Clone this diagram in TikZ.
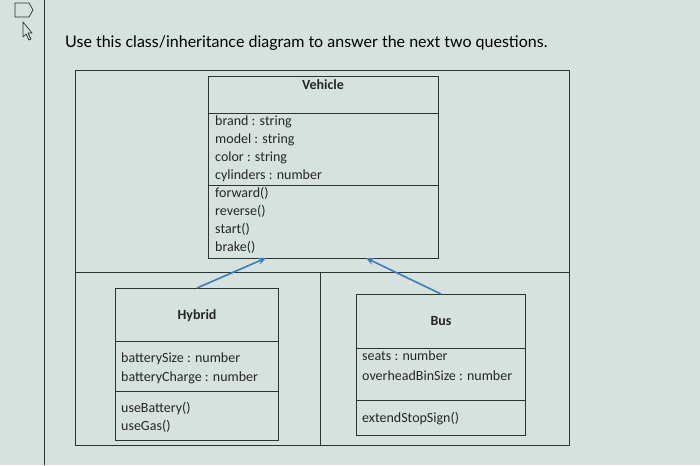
\documentclass[tikz,border=0pt]{standalone}
\usepackage{fontspec}
\setmainfont{Carlito}
\newfontfamily\latofont{Lato}
\usetikzlibrary{positioning,arrows.meta}
\definecolor{screen}{RGB}{214,226,222}
\definecolor{umlline}{RGB}{45,50,52}
\definecolor{inherit}{RGB}{58,124,190}
\tikzset{
  compart/.style={draw=umlline,line width=0.9pt,anchor=north west,inner sep=0pt},
  member/.style={anchor=north west,inner sep=0pt,align=left,text=black!85,
    font=\fontsize{14}{18}\selectfont},
  classname/.style={text=black!85,font=\bfseries\fontsize{14}{16}\selectfont},
  inherits/.style={draw=inherit,line width=1.6pt,-{Stealth[length=8pt,width=7pt]}}
}
\begin{document}
\begin{tikzpicture}[x=1pt,y=-1pt]
\useasboundingbox (0,0) rectangle (700,465);
\fill[screen] (0,0) rectangle (700,465);
% screen bits at the left
\draw[umlline] (44,0) -- (44,465);
\draw[umlline,line width=0.8pt] (15,3) -- (29,3) -- (33,10) -- (29,17) -- (15,17) -- cycle;
\draw[umlline,line width=0.7pt,line join=round] (23,22) -- (23,37) -- (26,34) -- (29,40) -- (31,39) -- (28,33) -- (32,33) -- cycle;
\node[anchor=west,inner sep=0pt,font=\latofont\fontsize{16}{18}\selectfont] (question) at (65,43)
  {Use this class/inheritance diagram to answer the next two questions.};
% outer frame
\node[compart,minimum width=494pt,minimum height=375pt] (frame) at (75,70) {};
\draw[umlline,line width=0.9pt] (75,272) -- (569,272);
\draw[umlline,line width=0.9pt] (320,272) -- (320,445);
% Vehicle
\node[compart,minimum width=230pt,minimum height=37pt] (vehname) at (208,76) {};
\node[compart,minimum width=230pt,minimum height=72pt] (vehattr) at (208,113) {};
\node[compart,minimum width=230pt,minimum height=73pt] (vehops) at (208,185) {};
\node[classname] (vehtitle) at (323,85) {Vehicle};
\node[member] (vehattrtext) at (215,116) {brand : string\\ model : string\\ color : string\\ cylinders : number};
\node[member] (vehopstext) at (215,187.5) {forward()\\ reverse()\\ start()\\ brake()};
% Hybrid
\node[compart,minimum width=163pt,minimum height=53pt] (hybname) at (115,288) {};
\node[compart,minimum width=163pt,minimum height=50pt] (hybattr) at (115,341) {};
\node[compart,minimum width=163pt,minimum height=49pt] (hybops) at (115,391) {};
\node[classname] (hybtitle) at (197,316) {Hybrid};
\node[member,font=\fontsize{14}{19}\selectfont] (hybattrtext) at (121,353) {batterySize : number\\ batteryCharge : number};
\node[member] (hybopstext) at (121,402) {useBattery()\\ useGas()};
% Bus
\node[compart,minimum width=169pt,minimum height=54pt] (busname) at (356,294) {};
\node[compart,minimum width=169pt,minimum height=52pt] (busattr) at (356,348) {};
\node[compart,minimum width=169pt,minimum height=35pt] (busops) at (356,400) {};
\node[classname] (bustitle) at (441,321) {Bus};
\node[member,font=\fontsize{14}{20}\selectfont] (busattrtext) at (362,351) {seats : number\\ overheadBinSize : number};
\node[member] (busopstext) at (362,412) {extendStopSign()};
% inheritance
\coordinate (hybtip) at (266,258);
\coordinate (bustip) at (366,258);
\draw[inherits] (hybname.north) -- (hybtip);
\draw[inherits] (busname.north) -- (bustip);
\end{tikzpicture}
\end{document}
